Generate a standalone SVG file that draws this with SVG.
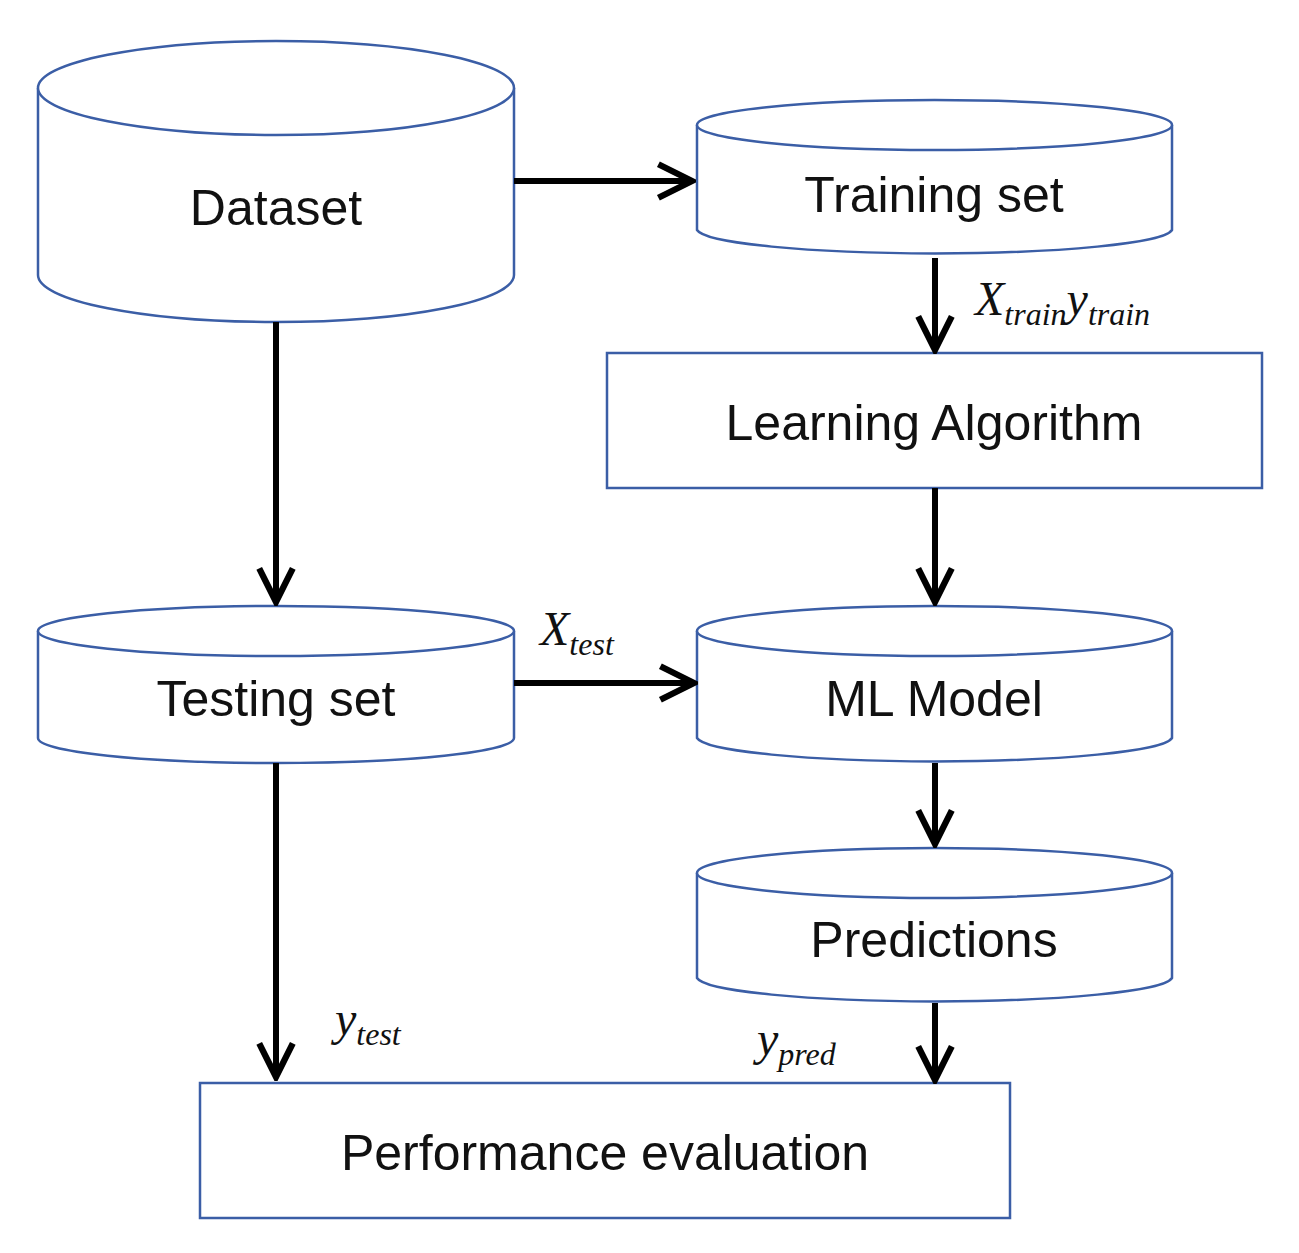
<svg xmlns="http://www.w3.org/2000/svg" width="1299" height="1253" viewBox="0 0 1299 1253">
<style>
.n{fill:#fff;stroke:#3b5ea6;stroke-width:2.5}
.t{font-family:"Liberation Sans",Arial,sans-serif;font-size:50px;fill:#111;text-anchor:middle}
.m{font-family:"Liberation Serif","Times New Roman",serif;font-style:italic;fill:#111}
.c{stroke:#000;stroke-width:6;fill:none}
</style>
<defs>
<marker id="a" viewBox="0 0 20 20" refX="18" refY="10" markerWidth="7" markerHeight="7" markerUnits="strokeWidth" orient="auto">
<polyline points="2,2 18,10 2,18" fill="none" stroke="#000" stroke-width="3"/>
</marker>
</defs>
<rect width="1299" height="1253" fill="#fff"/>
<g id="dataset">
<path class="n" d="M38,88 V275 A238,47 0 0 0 514,275 V88"/>
<ellipse class="n" cx="276" cy="88" rx="238" ry="47"/>
<text class="t" x="276" y="225">Dataset</text>
</g>
<g id="training">
<path class="n" d="M697,125 V230 A238,25 0 0 0 1172,230 V125"/>
<ellipse class="n" cx="934.5" cy="125" rx="237.5" ry="25"/>
<text class="t" x="934" y="212">Training set</text>
</g>
<g id="learning">
<rect class="n" x="607" y="353" width="655" height="135"/>
<text class="t" x="934" y="440">Learning Algorithm</text>
</g>
<g id="testing">
<path class="n" d="M38,631 V738 A238,25 0 0 0 514,738 V631"/>
<ellipse class="n" cx="276" cy="631" rx="238" ry="25"/>
<text class="t" x="276" y="716">Testing set</text>
</g>
<g id="model">
<path class="n" d="M697,631 V738 A238,25 0 0 0 1172,738 V631"/>
<ellipse class="n" cx="934.5" cy="631" rx="237.5" ry="25"/>
<text class="t" x="934" y="716">ML Model</text>
</g>
<g id="predictions">
<path class="n" d="M697,873 V978 A238,25 0 0 0 1172,978 V873"/>
<ellipse class="n" cx="934.5" cy="873" rx="237.5" ry="25"/>
<text class="t" x="934" y="957">Predictions</text>
</g>
<g id="performance">
<rect class="n" x="200" y="1083" width="810" height="135"/>
<text class="t" x="605" y="1170">Performance evaluation</text>
</g>
<g id="connectors">
<line class="c" x1="514" y1="181" x2="692" y2="181" marker-end="url(#a)"/>
<line class="c" x1="935" y1="258" x2="935" y2="350" marker-end="url(#a)"/>
<line class="c" x1="935" y1="488" x2="935" y2="602" marker-end="url(#a)"/>
<line class="c" x1="276" y1="322" x2="276" y2="602" marker-end="url(#a)"/>
<line class="c" x1="514" y1="683" x2="694" y2="683" marker-end="url(#a)"/>
<line class="c" x1="935" y1="763" x2="935" y2="844" marker-end="url(#a)"/>
<line class="c" x1="935" y1="1003" x2="935" y2="1080" marker-end="url(#a)"/>
<line class="c" x1="276" y1="763" x2="276" y2="1077" marker-end="url(#a)"/>
</g>
<g id="labels">
<text class="m" x="975" y="315" font-size="48">X<tspan font-size="32" dy="10">train</tspan><tspan font-size="48" dy="-10">y</tspan><tspan font-size="32" dy="10">train</tspan></text>
<text class="m" x="540" y="645" font-size="48">X<tspan font-size="32" dy="10">test</tspan></text>
<text class="m" x="335" y="1035" font-size="48">y<tspan font-size="32" dy="10">test</tspan></text>
<text class="m" x="757" y="1055" font-size="48">y<tspan font-size="32" dy="10">pred</tspan></text>
</g>
</svg>
